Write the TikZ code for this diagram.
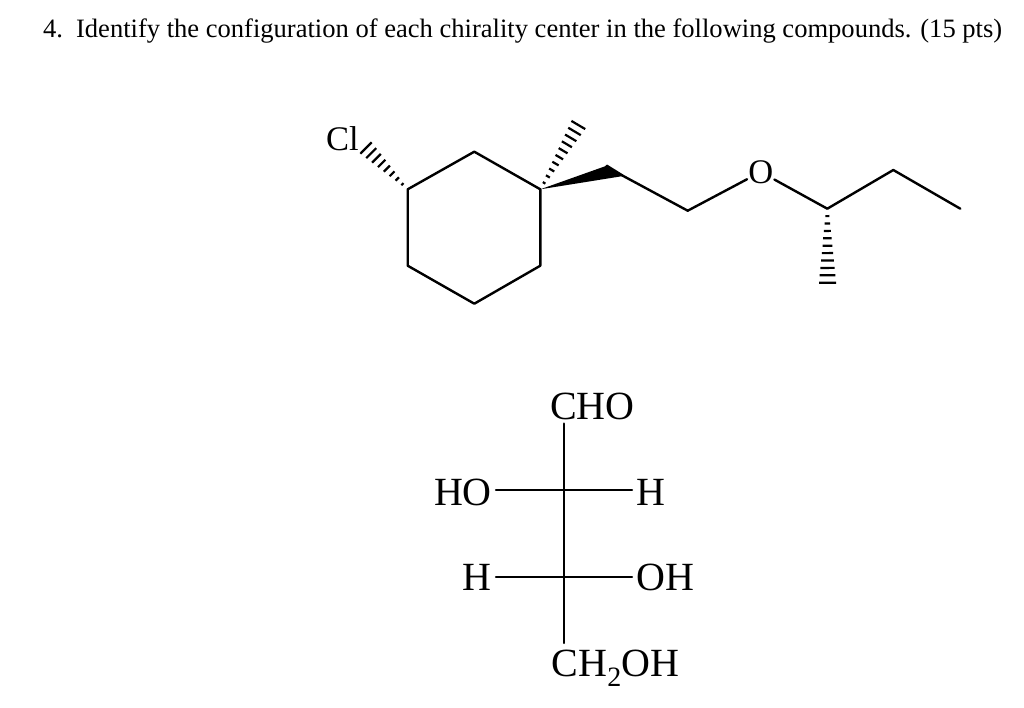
\documentclass[tikz,border=0pt]{standalone}
\usepackage{fontspec}
\setmainfont{Liberation Serif}
\usetikzlibrary{calc}
\newcommand{\hashbond}[5]{%
  \foreach \i in {1,...,#3} {
    \pgfmathsetmacro{\tfrac}{\i/#3}
    \pgfmathsetmacro{\hw}{#4+(#5-#4)*(\i-1)/(#3-1)}
    \draw[hashline] let \p1=($(#2)-(#1)$), \n1={veclen(\x1,\y1)} in
      ($($(#1)!\tfrac!(#2)$)+({-\hw*\y1/\n1*1pt},{\hw*\x1/\n1*1pt})$) --
      ($($(#1)!\tfrac!(#2)$)+({\hw*\y1/\n1*1pt},{-\hw*\x1/\n1*1pt})$);
  }}
\tikzset{
  bond/.style={line width=2.4pt,line cap=round,line join=round,black},
  hashline/.style={line width=2.2pt,black},
  wedgebond/.style={fill=black,draw=none},
  upper/.style={font=\fontsize{34.5}{34.5}\selectfont,inner sep=0pt},
  lower/.style={font=\fontsize{40}{40}\selectfont,inner xsep=4pt,inner ysep=4pt},
  titletext/.style={font=\fontsize{26.55}{26.55}\selectfont,inner sep=0pt,anchor=base west}
}
\begin{document}
\begin{tikzpicture}[x=1pt,y=-1pt]
\useasboundingbox (0,0) rectangle (1024,707);
\fill[white] (0,0) rectangle (1024,707);
\node[titletext] (title) at (43,37) {4.\hspace{13pt}Identify the configuration of each chirality center in the following compounds. (15 pts)};
% ring
\coordinate (r1) at (407.7,189.3);
\coordinate (r2) at (474.3,151.7);
\coordinate (r3) at (540.3,189.3);
\coordinate (r4) at (540.3,265.7);
\coordinate (r5) at (474.3,303.7);
\coordinate (r6) at (407.7,265.7);
\draw[bond] (r1)--(r2)--(r3)--(r4)--(r5)--(r6)--cycle;
% chlorine
\node[upper,anchor=base west] (Cl) at (326,150) {Cl};
\coordinate (clend) at (366,148);
\hashbond{r1}{clend}{8}{1.5}{8}
% methyl on ring
\coordinate (meend) at (578.3,125);
\hashbond{r3}{meend}{10}{1.5}{8}
% wedge and chain
\coordinate (w1) at (606.7,165.7);
\coordinate (w2) at (623.3,176);
\coordinate (c1) at (687.7,210.7);
\coordinate (c2) at (827.3,208.7);
\coordinate (c3) at (893.3,170);
\coordinate (c4) at (960.3,208.7);
\fill[wedgebond] (r3)--(w1)--(w2)--cycle;
\node[upper,inner sep=1pt] (O) at (760.7,172) {O};
\draw[bond] (w1)--(w2)--(c1)--(O);
\draw[bond] (O)--(c2)--(c3)--(c4);
\coordinate (meend2) at (827.5,282.7);
\hashbond{c2}{meend2}{10}{2}{8.5}
% Fischer projection
\coordinate (f1) at (564,490);
\coordinate (f2) at (564,576.7);
\node[lower,anchor=base] (CHO) at (592.5,419) {CHO};
\node[lower,anchor=base east] (HO) at (496,505) {HO};
\node[lower,anchor=base west] (H1) at (632,505) {H};
\node[lower,anchor=base east] (H2) at (496,590.7) {H};
\node[lower,anchor=base west] (OH) at (632,590.7) {OH};
\node[lower,anchor=base west,inner ysep=7pt] (CH) at (547.5,676.7) {CH\textsubscript{2}OH};
\draw[bond] (CHO.south -| f1) -- (f1) -- (f2) -- (CH.north -| f2);
\draw[bond] (HO.east |- f1) -- (f1) -- (H1.west |- f1);
\draw[bond] (H2.east |- f2) -- (f2) -- (OH.west |- f2);
\end{tikzpicture}
\end{document}
